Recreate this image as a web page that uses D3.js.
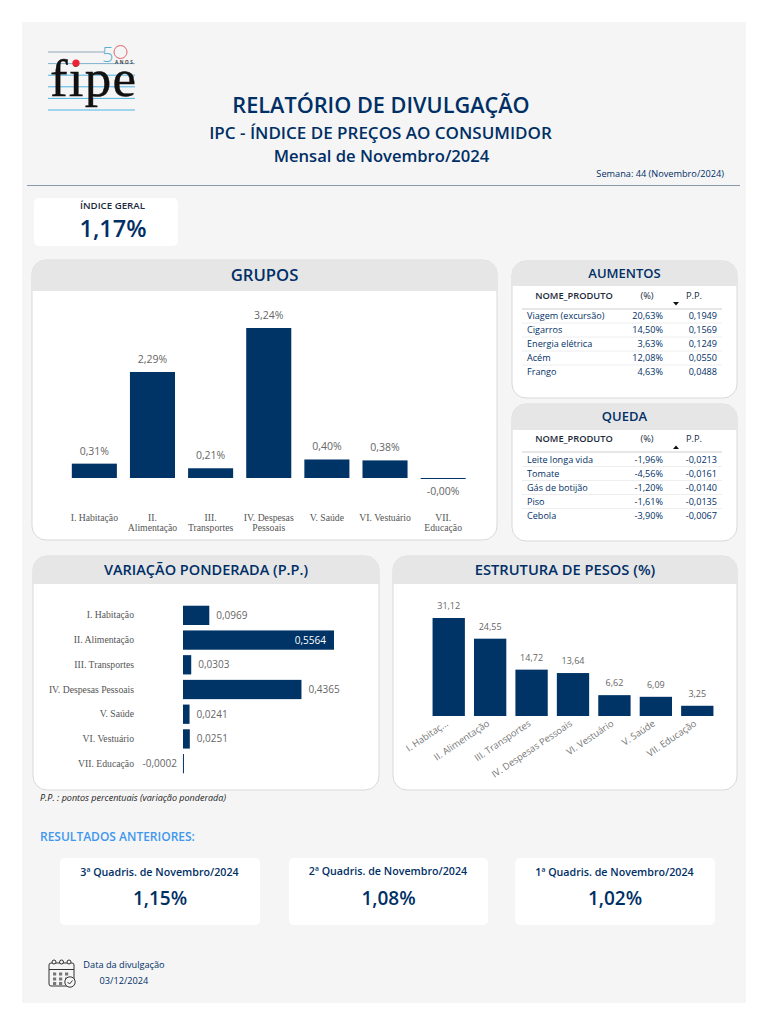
<!DOCTYPE html>
<html><head><meta charset="utf-8">
<script src="https://cdnjs.cloudflare.com/ajax/libs/d3/7.8.5/d3.min.js"></script>
<style>html,body{margin:0;padding:0;background:#fff}svg{display:block}text{font-family:"Open Sans","Noto Sans",sans-serif}</style>
</head><body><div id="c"></div>
<script>
const groupNames=["I. Habitação","II. Alimentação","III. Transportes","IV. Despesas Pessoais","V. Saúde","VI. Vestuário","VII. Educação"];
const groupValues=[0.31,2.29,0.21,3.24,0.40,0.38,-0.004];
const groupLabels=["0,31%","2,29%","0,21%","3,24%","0,40%","0,38%","-0,00%"];
const groupTicks=[["I. Habitação"],["II.","Alimentação"],["III.","Transportes"],["IV. Despesas","Pessoais"],["V. Saúde"],["VI. Vestuário"],["VII.","Educação"]];
const ppValues=[0.0969,0.5564,0.0303,0.4365,0.0241,0.0251,-0.0002];
const ppLabels=["0,0969","0,5564","0,0303","0,4365","0,0241","0,0251","-0,0002"];
const weightNames=["I. Habitaç...","II. Alimentação","III. Transportes","IV. Despesas Pessoais","VI. Vestuário","V. Saúde","VII. Educação"];
const weightValues=[31.12,24.55,14.72,13.64,6.62,6.09,3.25];
const weightLabels=["31,12","24,55","14,72","13,64","6,62","6,09","3,25"];
const upProducts=["Viagem (excursão)","Cigarros","Energia elétrica","Acém","Frango"];
const upPct=["20,63%","14,50%","3,63%","12,08%","4,63%"];
const upPP=["0,1949","0,1569","0,1249","0,0550","0,0488"];
const downProducts=["Leite longa vida","Tomate","Gás de botijão","Piso","Cebola"];
const downPct=["-1,96%","-4,56%","-1,20%","-1,61%","-3,90%"];
const downPP=["-0,0213","-0,0161","-0,0140","-0,0135","-0,0067"];
const previousTitles=["3ª Quadris. de Novembro/2024","2ª Quadris. de Novembro/2024","1ª Quadris. de Novembro/2024"];
const previousValues=["1,15%","1,08%","1,02%"];

const NAVY="#002f66",BAR="#003366",GREY="#666",SERIF="'Liberation Serif',serif";
const svg=d3.select("#c").append("svg").attr("width",768).attr("height",1024);
svg.append("rect").attr("x",22).attr("y",22).attr("width",724).attr("height",981).attr("fill","#f5f5f5");

function txt(x,y,s,size,o={}){
  const t=svg.append("text").attr("x",x).attr("y",y).text(s).attr("font-size",size)
   .attr("fill",o.fill||NAVY).attr("text-anchor",o.anchor||"start").attr("font-weight",o.weight||400);
  if(o.family)t.style("font-family",o.family);
  if(o.style)t.attr("font-style",o.style);
  if(o.rotate!==undefined)t.attr("transform",`rotate(${o.rotate} ${x} ${y})`);
  return t;
}
function panel(x0,y0,x1,y1,hb,title,size){
  const r=14;
  svg.append("rect").attr("x",x0).attr("y",y0).attr("width",x1-x0).attr("height",y1-y0).attr("rx",r)
    .attr("fill","#fff").attr("stroke","#d9d9d9").attr("stroke-width",1);
  svg.append("path").attr("d",`M${x0},${hb}V${y0+r}A${r},${r} 0 0 1 ${x0+r},${y0}H${x1-r}A${r},${r} 0 0 1 ${x1},${y0+r}V${hb}Z`).attr("fill","#e6e6e6");
  txt((x0+x1)/2,(y0+hb)/2+size*0.32,title,size,{anchor:"middle",weight:600});
}

// logo
const logoLines=d3.range(6);
const ly=d3.scalePoint().domain(logoLines).range([52,110]);
logoLines.forEach(i=>svg.append("line").attr("x1",48).attr("x2",i==0?104:135).attr("y1",ly(i)).attr("y2",ly(i))
  .attr("stroke",i==0?"#8fa9bd":(i==1?"#7fb0cc":"#4fb3e0")).attr("stroke-width",1));
txt(50,96,"fipe",53,{fill:"#111",family:SERIF}).attr("letter-spacing",1.2).attr("stroke","#111").attr("stroke-width",0.4);
svg.append("circle").attr("cx",76).attr("cy",63).attr("r",3.6).attr("fill","#ee2233");
svg.append("circle").attr("cx",120.5).attr("cy",52).attr("r",6.5).attr("fill","none").attr("stroke","#e0656c").attr("stroke-width",1);
txt(102,62,"5",20,{fill:"#5aaecf",weight:300});
txt(115,63.5,"ANOS",4.6,{fill:"#444",weight:700}).attr("letter-spacing",1.6);

// titles
txt(381,112.5,"RELATÓRIO DE DIVULGAÇÃO",21.7,{anchor:"middle",weight:600});
txt(380.5,138.5,"IPC - ÍNDICE DE PREÇOS AO CONSUMIDOR",17,{anchor:"middle",weight:600});
txt(381.5,161.5,"Mensal de Novembro/2024",16.6,{anchor:"middle",weight:600});
txt(724,176.5,"Semana: 44 (Novembro/2024)",9.2,{anchor:"end"});
svg.append("line").attr("x1",27).attr("x2",740).attr("y1",185.5).attr("y2",185.5).attr("stroke","#8a9aa8");

// indice geral
svg.append("rect").attr("x",34).attr("y",198).attr("width",144).attr("height",48).attr("rx",5).attr("fill","#fff");
txt(112.5,208.5,"ÍNDICE GERAL",9.7,{anchor:"middle",weight:600,fill:"#1a2a3a"});
txt(113,236.5,"1,17%",23.5,{anchor:"middle",weight:600});

// GRUPOS
panel(32,260,497,540,291,"GRUPOS",16.7);
const gx=d3.scaleBand().domain(groupNames).range([66,471.5]).paddingInner(0.225).paddingOuter(0.1);
const gy=d3.scaleLinear().domain([0,3.24]).range([478,328]);
svg.append("g").selectAll("rect").data(groupValues).join("rect")
 .attr("x",(d,i)=>gx(groupNames[i])).attr("width",gx.bandwidth())
 .attr("y",d=>Math.min(gy(d),gy(0))).attr("height",d=>Math.max(1,Math.abs(gy(d)-gy(0)))).attr("fill",BAR);
groupValues.forEach((d,i)=>{
  const cx=gx(groupNames[i])+gx.bandwidth()/2;
  txt(cx,d<0?gy(d)+17:gy(d)-9,groupLabels[i],10.5,{anchor:"middle",fill:GREY});
  groupTicks[i].forEach((l,k)=>txt(cx,521+k*10,l,9.7,{anchor:"middle",fill:"#555",family:SERIF}));
});

// tables
function table(x0,yHead,yRule,ys,names,pct,pp,up){
  txt(574,yHead,"NOME_PRODUTO",9.3,{anchor:"middle",weight:600,fill:"#1a2a3a"});
  txt(647,yHead,"(%)",9.3,{anchor:"middle",weight:400,fill:"#1a2a3a"});
  txt(694,yHead,"P.P.",9.3,{anchor:"middle",weight:400,fill:"#1a2a3a"});
  svg.append("path").attr("d",up?`M673,${yRule-3}h6l-3,-3.5z`:`M673,${yRule-7}h6l-3,3.5z`).attr("fill","#111");
  svg.append("line").attr("x1",522).attr("x2",722).attr("y1",yRule).attr("y2",yRule).attr("stroke","#cfcfcf").attr("stroke-width",1.2);
  names.forEach((n,i)=>{
    const y=ys(i);
    txt(527,y+3.2,n,9.1,{});
    txt(663,y+3.2,pct[i],9.1,{anchor:"end"});
    txt(717,y+3.2,pp[i],9.1,{anchor:"end"});
    if(i<names.length-1)svg.append("line").attr("x1",522).attr("x2",722).attr("y1",y+7).attr("y2",y+7).attr("stroke","#eeeeee");
  });
}
panel(512,261,737,398,286,"AUMENTOS",13);
table(512,299,309,d3.scaleLinear().domain([0,4]).range([316,372]),upProducts,upPct,upPP,false);
panel(512,404,737,541,430,"QUEDA",13);
table(512,442,452,d3.scaleLinear().domain([0,4]).range([459.5,515.5]),downProducts,downPct,downPP,true);

// VARIAÇÃO PONDERADA
panel(33,556,379,790,584,"VARIAÇÃO PONDERADA (P.P.)",14.5);
const py=d3.scaleBand().domain(groupNames).range([603,776]).paddingInner(0.22).paddingOuter(0.11);
const px=d3.scaleLinear().domain([0,0.5564]).range([183,334]);
svg.append("g").selectAll("rect").data(ppValues).join("rect")
 .attr("x",d=>Math.min(px(d),px(0))).attr("y",(d,i)=>py(groupNames[i]))
 .attr("width",d=>Math.max(1,Math.abs(px(d)-px(0)))).attr("height",py.bandwidth()).attr("fill",BAR);
const pAxis=svg.append("g").attr("transform","translate(134,0)").call(d3.axisLeft(py).tickSize(0).tickPadding(0));
pAxis.select(".domain").remove();
pAxis.selectAll("text").attr("font-size",9.7).attr("fill","#555").style("font-family",SERIF);
ppValues.forEach((d,i)=>{
  const cy=py(groupNames[i])+py.bandwidth()/2+3.5;
  if(i==1)txt(px(d)-8,cy,ppLabels[i],10,{anchor:"end",fill:"#fff"});
  else if(d<0)txt(px(d)-6,cy,ppLabels[i],10,{anchor:"end",fill:GREY});
  else txt(px(d)+7,cy,ppLabels[i],10,{fill:GREY});
});
txt(40,801,"P.P. : pontos percentuais (variação ponderada)",9,{style:"italic",fill:"#222"});

// ESTRUTURA DE PESOS
panel(393,556,737,790,584,"ESTRUTURA DE PESOS (%)",14.7);
const wx=d3.scaleBand().domain(weightNames).range([428,718]).paddingInner(0.22).paddingOuter(0.11);
const wy=d3.scaleLinear().domain([0,31.12]).range([716,618]);
svg.append("g").selectAll("rect").data(weightValues).join("rect")
 .attr("x",(d,i)=>wx(weightNames[i])).attr("width",wx.bandwidth())
 .attr("y",d=>wy(d)).attr("height",d=>wy(0)-wy(d)).attr("fill",BAR);
weightValues.forEach((d,i)=>{
  const cx=wx(weightNames[i])+wx.bandwidth()/2;
  txt(cx,wy(d)-9,weightLabels[i],9,{anchor:"middle",fill:GREY});
  txt(cx,725,weightNames[i],9.4,{anchor:"end",fill:"#777",rotate:-34});
});

// previous
txt(40,841,"RESULTADOS ANTERIORES:",12,{weight:600,fill:"#3f97ee"});
[[60,260],[289,488],[515,715]].forEach(([a,b],i)=>{
  svg.append("rect").attr("x",a).attr("y",858).attr("width",b-a).attr("height",67).attr("rx",5).attr("fill","#fff");
  txt((a+b)/2-0.5,i==1?875:876,previousTitles[i],10.7,{anchor:"middle",weight:600});
  txt((a+b)/2,905,previousValues[i],19,{anchor:"middle",weight:600});
});

// calendar
const cal=svg.append("g").attr("fill","none").attr("stroke","#333").attr("stroke-width",1);
cal.append("rect").attr("x",49).attr("y",963).attr("width",25).attr("height",23).attr("rx",2);
cal.append("line").attr("x1",49).attr("x2",74).attr("y1",969.5).attr("y2",969.5);
[54,61.5,69].forEach(x=>cal.append("circle").attr("cx",x).attr("cy",962).attr("r",2).attr("fill","#f5f5f5"));
[[53,972.5],[59,972.5],[65,972.5],[53,977.5],[59,977.5],[65,977.5],[53,982],[59,982]].forEach(([x,y])=>cal.append("rect").attr("x",x).attr("y",y).attr("width",3.2).attr("height",3).attr("fill","#777").attr("stroke","none"));
cal.append("circle").attr("cx",70).attr("cy",982).attr("r",5.2).attr("fill","#f5f5f5");
cal.append("path").attr("d","M67.5,982l2,2l3,-3.5");
txt(124,968,"Data da divulgação",9.2,{anchor:"middle"});
txt(124,984,"03/12/2024",9.2,{anchor:"middle"});
</script></body></html>
